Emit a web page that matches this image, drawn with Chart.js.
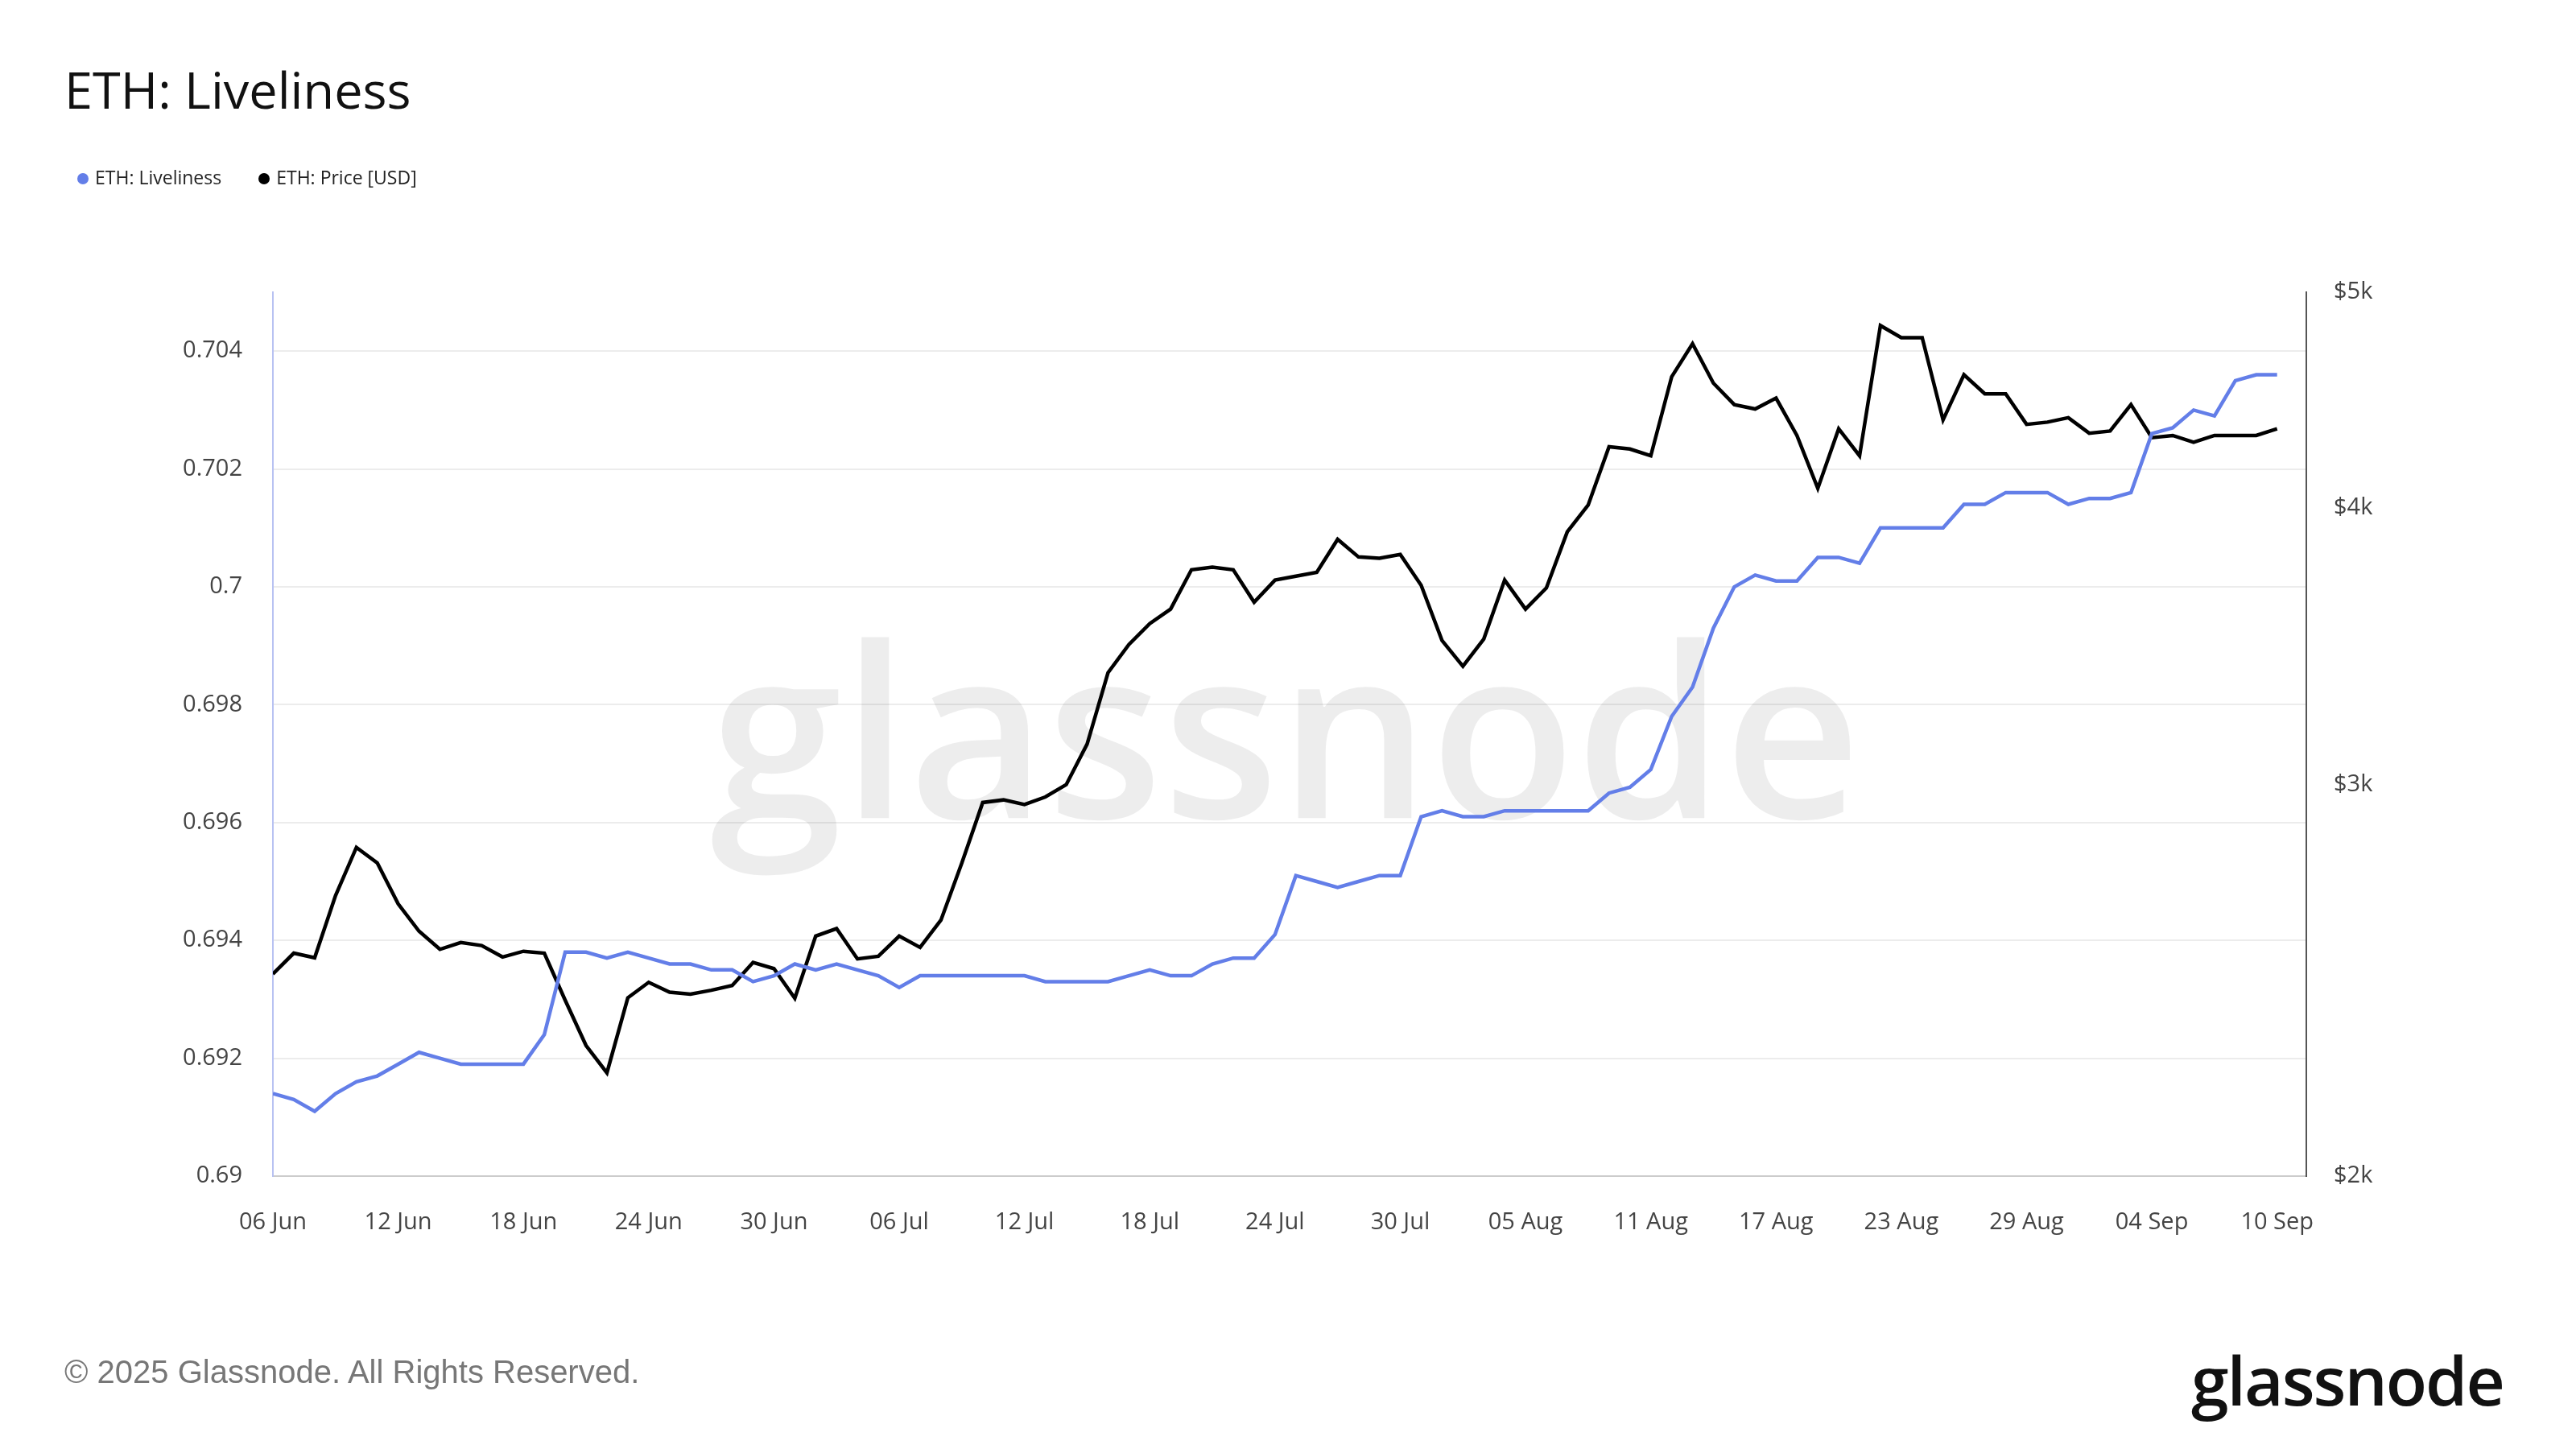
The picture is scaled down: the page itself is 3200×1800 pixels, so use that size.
<!DOCTYPE html>
<html><head><meta charset="utf-8">
<script src="https://cdn.jsdelivr.net/npm/chart.js@4"></script>
<style>
html,body{margin:0;padding:0;background:#fff;}
#wrap{position:relative;width:3200px;height:1800px;font-family:"Open Sans","Noto Sans",sans-serif;}
canvas{position:absolute;left:0;top:0;}
.t{position:absolute;white-space:nowrap;}
</style></head><body>
<div id="wrap">
<canvas id="c" width="3200" height="1800"></canvas>
<div class="t" style="left:80px;top:68px;font-size:63px;color:#111;font-family:'Open Sans',sans-serif;">ETH: Liveliness</div>
<div class="t" style="left:96px;top:204px;font-size:23px;color:#222;"><span style="display:inline-block;width:14px;height:14px;border-radius:50%;background:#637ee8;margin-right:8px;"></span>ETH: Liveliness<span style="display:inline-block;width:14px;height:14px;border-radius:50%;background:#000;margin:0 8px 0 46px;"></span>ETH: Price [USD]</div>
<div class="t" style="left:80px;top:1682px;font-size:40px;color:#777;font-family:'Liberation Sans',Arial,sans-serif;">© 2025 Glassnode. All Rights Reserved.</div>
<div class="t" style="left:2722px;top:1656px;font-size:84px;color:#111;font-weight:600;letter-spacing:-2px;font-family:'Open Sans',sans-serif;">glassnode</div>
</div>
<script>
const labels = [];
(function(){const m=['Jan','Feb','Mar','Apr','May','Jun','Jul','Aug','Sep','Oct','Nov','Dec'];
let d=new Date(Date.UTC(2025,5,6));const e=new Date(Date.UTC(2025,8,10));
while(d<=e){labels.push(String(d.getUTCDate()).padStart(2,'0')+' '+m[d.getUTCMonth()]);d=new Date(d.getTime()+86400000);}})();
const liveliness = [0.6914,0.6913,0.6911,0.6914,0.6916,0.6917,0.6919,0.6921,0.6920,0.6919,0.6919,0.6919,0.6919,0.6924,0.6938,0.6938,0.6937,0.6938,0.6937,0.6936,0.6936,0.6935,0.6935,0.6933,0.6934,
0.6936,0.6935,0.6936,0.6935,0.6934,0.6932,0.6934,0.6934,0.6934,0.6934,0.6934,0.6934,0.6933,0.6933,0.6933,0.6933,0.6934,0.6935,0.6934,0.6934,0.6936,0.6937,0.6937,0.6941,0.6951,0.6950,0.6949,0.6950,0.6951,0.6951,0.6961,
0.6962,0.6961,0.6961,0.6962,0.6962,0.6962,0.6962,0.6962,0.6965,0.6966,0.6969,0.6978,0.6983,0.6993,0.7000,0.7002,0.7001,0.7001,0.7005,0.7005,0.7004,0.7010,0.7010,0.7010,0.7010,0.7014,0.7014,0.7016,0.7016,0.7016,0.7014,
0.7015,0.7015,0.7016,0.7026,0.7027,0.7030,0.7029,0.7035,0.7036,0.7036];
const price = [2466,2520,2508,2675,2812,2767,2652,2578,2530,2548,2540,2510,2525,2520,2400,2290,2226,2406,2445,2420,2415,2425,2437,2496,2480,
2405,2565,2585,2505,2512,2565,2535,2608,2767,2946,2954,2940,2963,3001,3130,3370,3470,3546,3600,3750,3760,3750,3626,3710,3725,3740,3870,3800,3795,3810,3690,
3485,3393,3490,3710,3600,3680,3900,4010,4260,4250,4220,4580,4740,4550,4450,4430,4480,4310,4080,4340,4220,4830,4770,4770,4380,4590,4500,4500,4360,4370,4390,
4320,4330,4450,4300,4310,4280,4310,4310,4310,4340];
const leftTicks=[0.69,0.692,0.694,0.696,0.698,0.7,0.702,0.704];
const rightTicks=[2000,3000,4000,5000];

const watermark={id:'wm',beforeDatasetsDraw(ch){const c=ch.ctx,a=ch.chartArea;c.save();c.font='600 296px "Open Sans",sans-serif';c.fillStyle='rgba(0,0,0,0.07)';c.textAlign='center';c.textBaseline='middle';c.fillText('glassnode',(a.left+a.right)/2-5,(a.top+a.bottom)/2+20);c.restore();}};
const tickFont={size:29,family:'"Open Sans",sans-serif'};
new Chart(document.getElementById('c'),{
type:'line',
data:{datasets:[
{label:'ETH: Liveliness',data:liveliness.map((v,i)=>({x:i,y:v})),yAxisID:'y',borderColor:'#637ee8',borderWidth:4.5,pointRadius:0,tension:0},
{label:'ETH: Price [USD]',data:price.map((v,i)=>({x:i,y:v})),yAxisID:'y1',borderColor:'#000',borderWidth:4.5,pointRadius:0,tension:0}]},
options:{responsive:false,animation:false,
layout:{padding:{top:363,left:0,right:0,bottom:0}},
plugins:{legend:{display:false},tooltip:{enabled:false}},
scales:{
x:{type:'linear',min:0,max:97.4,grid:{display:false,drawTicks:false},border:{color:'#ccc',width:2},
 afterBuildTicks(s){const t=[];for(let i=0;i<labels.length;i+=6)t.push({value:i});s.ticks=t;},
 ticks:{autoSkip:false,maxRotation:0,padding:40,color:'#444',font:tickFont,callback:v=>labels[v]},
 afterFit(s){s.height=339;}},
y:{position:'left',min:0.69,max:0.705,grid:{color:'#ececec',lineWidth:2,drawTicks:false},border:{color:'#b8c2f2',width:2},
 afterBuildTicks(s){s.ticks=leftTicks.map(v=>({value:v}));},
 ticks:{padding:38,color:'#444',font:tickFont,callback:v=>String(parseFloat(v.toFixed(3)))},
 afterFit(s){s.width=339;}},
y1:{position:'right',type:'logarithmic',min:2000,max:5000,grid:{display:false,drawTicks:false},border:{color:'#555',width:2},
 afterBuildTicks(s){s.ticks=rightTicks.map(v=>({value:v}));},
 ticks:{padding:34,color:'#444',font:tickFont,callback:v=>'$'+(v/1000)+'k'},
 afterFit(s){s.width=335;}}
}},plugins:[watermark]});
</script>
</body></html>
